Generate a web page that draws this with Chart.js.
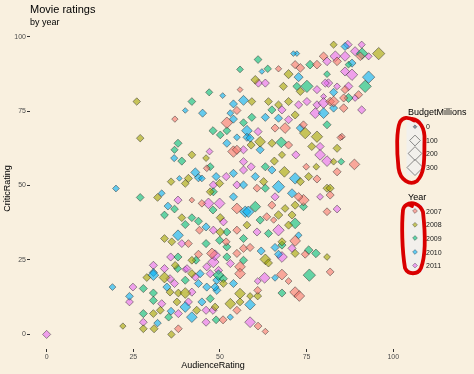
<!DOCTYPE html>
<html lang="en">

<head>
    <meta charset="utf-8">
    <title>Movie ratings</title>
    <script src="https://cdn.jsdelivr.net/npm/chart.js@4.4.1/dist/chart.umd.min.js"></script>
    <style>
        html,
        body {
            margin: 0;
            padding: 0;
            background: #F9F0DF;
        }

        #wrap {
            width: 474px;
            height: 374px;
        }
    </style>
</head>

<body>
    <div id="wrap"><canvas id="ratingsChart" width="474" height="374"></canvas></div>

    <script>
        // each movie: [AudienceRating, CriticRating, BudgetMillions]
        const movies2007 = [
            [55.8, 82.2, 10], [37.0, 72.3, 15], [54.9, 75.2, 40], [52.0, 71.1, 120],
            [79.9, 93.4, 50], [90.5, 93.4, 50], [83.8, 91.7, 50], [71.7, 90.6, 40], [73.2, 89.5, 50],
            [78.0, 90.6, 50], [66.9, 89.2, 15], [86.1, 82.2, 40], [90.0, 80.5, 40], [81.8, 78.2, 50],
            [82.8, 78.2, 100], [85.7, 79.4, 40], [85.7, 76.0, 50], [65.9, 69.3, 40], [68.8, 69.3, 100],
            [74.1, 70.4, 35], [85.2, 66.4, 20],
            [53.9, 61.4, 120], [54.9, 62.0, 60], [46.2, 55.8, 20], [41.9, 45.1, 8], [44.8, 44.0, 30],
            [54.9, 42.3, 100], [44.1, 35.0, 35], [54.9, 35.0, 40], [40.9, 30.5, 35], [51.8, 31.1, 35],
            [69.8, 63.6, 40], [84.7, 66.1, 15], [88.8, 57.1, 100], [74.9, 56.3, 20], [83.8, 54.6, 40],
            [78.0, 52.2, 40], [81.8, 46.8, 40], [60.7, 49.1, 35], [74.1, 45.1, 120], [72.7, 46.2, 50],
            [65.0, 43.4, 40], [80.9, 41.2, 35], [63.5, 39.5, 40], [65.5, 38.4, 15], [71.7, 31.4, 100],
            [43.8, 26.9, 40], [47.7, 27.2, 100], [55.8, 22.7, 100], [54.9, 8.1, 40], [50.9, 4.9, 40],
            [38.0, 1.9, 35], [54.9, 27.2, 40], [56.8, 28.9, 40], [55.8, 20.4, 100],
            [58.7, 29.2, 40], [74.6, 26.9, 35], [67.9, 20.1, 100], [69.8, 17.9, 20], [81.8, 21.0, 35],
            [60.9, 14.8, 35], [71.7, 14.2, 100], [72.9, 12.9, 100], [61.0, 2.8, 35], [63.1, 1.0, 15]
        ];
        const movies2008 = [
            [26.0, 78.2, 30], [27.0, 65.9, 30],
            [82.8, 97.3, 25], [95.8, 94.3, 150], [69.8, 87.4, 60], [60.2, 85.5, 50], [73.2, 81.6, 40],
            [68.3, 83.3, 40], [59.2, 78.2, 35], [64.0, 78.2, 35], [66.9, 77.1, 35], [69.8, 78.2, 40],
            [71.7, 73.7, 40], [74.6, 67.6, 120], [78.0, 66.4, 120],
            [41.9, 60.3, 35], [46.0, 59.2, 20], [40.9, 52.4, 40], [40.0, 50.7, 35], [35.9, 51.3, 30],
            [49.9, 50.7, 40], [32.0, 46.0, 35], [47.2, 47.9, 35], [39.0, 39.2, 35], [50.1, 39.2, 40],
            [50.1, 34.4, 50], [57.8, 36.7, 35], [34.0, 32.2, 35], [36.1, 31.1, 35],
            [59.0, 63.6, 40], [61.6, 64.7, 100], [65.0, 64.2, 40], [76.5, 63.1, 40], [83.8, 62.5, 40],
            [82.8, 58.0, 20], [67.9, 60.3, 25], [65.7, 58.2, 40], [68.6, 54.6, 100], [62.6, 51.3, 40],
            [73.2, 51.3, 40], [75.6, 53.0, 40], [77.8, 56.3, 20], [80.9, 49.1, 40], [81.8, 49.1, 40],
            [71.7, 43.4, 40], [68.8, 42.3, 35], [66.9, 40.1, 50], [70.8, 40.1, 40], [69.8, 36.7, 40],
            [67.9, 31.1, 40], [41.9, 20.4, 40], [37.1, 23.2, 35],
            [41.9, 24.9, 35], [28.9, 19.1, 35], [34.0, 19.1, 100], [51.0, 17.1, 35], [55.8, 13.7, 100],
            [35.6, 14.2, 35], [38.0, 13.9, 35], [40.0, 13.9, 100], [37.6, 10.9, 35], [48.6, 9.2, 35],
            [53.0, 10.3, 100], [55.8, 10.9, 35], [30.8, 7.0, 35], [32.8, 8.1, 35], [43.3, 8.1, 40],
            [22.0, 2.8, 15], [27.9, 1.9, 35], [31.0, 1.9, 40], [36.0, 0.0, 30],
            [63.1, 25.2, 100], [64.0, 24.0, 40], [71.7, 27.2, 40], [80.9, 26.0, 20], [60.9, 12.9, 35],
            [58.7, 12.9, 20]
        ];
        const movies2009 = [
            [55.8, 89.0, 20], [46.9, 81.3, 25], [41.9, 78.2, 35], [56.8, 71.1, 35], [48.0, 68.4, 40],
            [50.1, 67.0, 35], [52.0, 68.4, 35],
            [91.0, 94.3, 120], [87.1, 90.6, 20], [76.0, 90.6, 50], [61.0, 92.3, 35], [63.8, 89.2, 30],
            [80.9, 87.4, 20], [75.1, 83.3, 150], [72.2, 83.3, 40], [91.9, 83.3, 150], [87.1, 79.4, 60],
            [65.0, 75.4, 40], [59.2, 72.9, 40], [80.9, 70.4, 40],
            [37.9, 64.2, 40], [36.9, 62.0, 25], [39.0, 58.2, 40], [47.2, 56.3, 35], [27.0, 46.0, 35],
            [36.9, 42.1, 35], [34.0, 40.1, 35], [48.0, 41.8, 40], [48.1, 47.9, 40], [40.0, 36.9, 40],
            [41.9, 39.2, 35], [43.8, 38.0, 40], [52.0, 34.4, 40], [46.0, 30.5, 40], [49.9, 31.6, 40],
            [56.8, 32.2, 40],
            [67.7, 64.5, 100], [85.0, 58.0, 20], [63.1, 56.3, 40], [63.1, 49.1, 40], [74.1, 42.9, 40],
            [60.2, 42.9, 100], [61.6, 38.4, 40], [71.7, 37.3, 100], [64.0, 33.9, 40],
            [37.9, 26.0, 40], [56.8, 24.9, 40], [40.0, 18.2, 40], [27.9, 15.4, 40], [30.8, 13.9, 40],
            [30.8, 11.4, 40], [47.2, 12.0, 40], [27.9, 7.0, 40], [35.2, 5.8, 35], [48.9, 4.9, 35],
            [52.0, 29.4, 40], [52.0, 26.0, 40], [43.1, 24.9, 35], [37.8, 22.1, 35], [49.6, 19.9, 100],
            [51.0, 18.7, 40],
            [67.9, 30.0, 40], [75.6, 28.3, 50], [77.7, 27.2, 50], [75.8, 19.9, 150], [67.9, 13.9, 40]
        ];
        const movies2010 = [
            [50.8, 80.2, 10], [45.0, 74.3, 40], [40.0, 75.2, 8], [53.9, 77.4, 40], [56.8, 78.6, 80],
            [53.0, 74.3, 20], [53.9, 72.3, 40], [57.8, 68.4, 100], [57.8, 66.2, 40], [54.9, 66.2, 20],
            [86.1, 96.7, 40], [72.2, 94.3, 8], [71.2, 94.3, 8], [88.1, 91.1, 40], [62.1, 88.3, 8],
            [92.9, 86.4, 150], [72.7, 86.4, 60], [82.8, 81.3, 40], [82.8, 76.0, 40], [79.9, 74.3, 100],
            [63.1, 72.9, 40], [66.9, 72.6, 40], [73.2, 69.3, 40],
            [36.8, 59.2, 25], [52.0, 64.2, 40], [42.9, 54.4, 60], [43.8, 52.6, 40], [44.8, 52.4, 20],
            [38.3, 52.4, 8], [48.9, 53.0, 40], [53.9, 54.1, 40], [56.8, 50.2, 40], [20.0, 49.0, 20],
            [33.2, 47.4, 20], [35.0, 43.1, 35], [53.9, 46.2, 40], [57.3, 41.2, 120], [46.0, 36.1, 40],
            [37.9, 33.3, 100], [58.7, 65.9, 40],
            [61.6, 62.0, 40], [65.0, 55.2, 40], [60.2, 53.0, 40], [71.7, 52.4, 120], [66.9, 49.6, 150],
            [70.8, 47.4, 60], [58.2, 41.2, 120], [72.7, 33.3, 20],
            [30.8, 20.8, 40], [43.8, 17.1, 40], [46.2, 15.9, 40], [49.1, 14.8, 40], [53.9, 17.1, 40],
            [19.0, 15.9, 20], [23.9, 12.8, 35], [44.8, 10.9, 40], [35.9, 7.8, 35], [40.0, 9.2, 100],
            [41.9, 5.8, 100], [53.0, 5.8, 15], [32.0, 3.8, 30], [30.8, 19.9, 100],
            [44.3, 20.4, 40], [49.1, 18.2, 40], [34.7, 15.9, 40], [48.6, 15.9, 40],
            [61.9, 28.0, 40], [65.9, 29.2, 40], [66.9, 26.9, 40], [65.9, 19.0, 20], [58.7, 10.0, 100]
        ];
        const movies2011 = [
            [86.9, 97.3, 50], [90.9, 97.3, 25], [83.3, 93.4, 100], [86.1, 93.4, 80], [89.0, 95.1, 60],
            [92.9, 93.4, 25], [80.9, 91.7, 50], [86.1, 88.3, 60], [88.1, 87.2, 120], [61.1, 84.4, 40],
            [63.1, 84.4, 40], [81.3, 84.4, 50], [80.4, 84.4, 40], [83.8, 83.3, 20], [78.0, 82.2, 40],
            [87.1, 83.3, 50], [79.9, 79.9, 10], [72.7, 77.1, 40], [75.1, 78.2, 40], [78.0, 77.1, 40],
            [79.9, 77.7, 100], [89.0, 79.4, 20], [77.5, 74.3, 100], [90.9, 75.4, 40], [67.9, 75.4, 40],
            [69.8, 72.1, 40], [61.0, 68.1, 40],
            [47.0, 61.4, 20], [56.8, 62.0, 40], [56.8, 58.0, 40], [51.8, 53.0, 40], [48.1, 50.2, 40],
            [56.8, 55.2, 40], [54.9, 50.2, 40], [37.9, 45.1, 40], [46.7, 44.0, 100], [49.9, 44.0, 100],
            [51.0, 37.8, 40], [48.1, 35.0, 40], [39.0, 30.5, 35],
            [78.9, 63.1, 40], [78.9, 60.3, 100], [80.9, 58.2, 100], [71.9, 60.3, 40], [59.0, 56.3, 40],
            [78.9, 46.2, 20], [65.9, 46.2, 40], [83.8, 42.1, 35], [66.9, 35.0, 120], [60.7, 34.4, 40],
            [35.8, 26.0, 40], [48.1, 24.3, 120], [53.0, 23.8, 40], [30.8, 23.2, 40], [34.0, 22.1, 40],
            [42.9, 19.3, 40], [36.9, 17.1, 40], [24.9, 15.9, 35], [41.9, 14.2, 40], [33.2, 10.3, 40],
            [40.9, 10.9, 40], [23.9, 10.9, 35], [38.0, 7.0, 40], [46.0, 8.1, 40], [48.0, 8.1, 40],
            [27.9, 4.1, 35], [46.0, 4.1, 40], [0.0, 0.0, 40],
            [48.6, 26.6, 100], [49.6, 21.5, 40], [40.0, 21.8, 15], [40.5, 22.1, 35], [46.2, 22.7, 40],
            [47.2, 20.4, 40], [35.6, 18.7, 40],
            [67.9, 26.0, 100], [70.8, 28.9, 40], [62.9, 19.0, 100], [60.9, 17.9, 20], [58.7, 4.1, 100]
        ];

        const years = ['2007', '2008', '2009', '2010', '2011'];
        const moviesByYear = [movies2007, movies2008, movies2009, movies2010, movies2011];
        const yearColors = ['#F8766D', '#A3A500', '#00BF7D', '#00B0F6', '#E76BF3'];
        const axisTicks = [0, 25, 50, 75, 100];
        const budgetBreaks = [0, 100, 200, 300];

        const FONT = '"Liberation Sans", Arial, sans-serif';
        const FILL_ALPHA = 0.6;
        const EDGE = 'rgba(30,30,30,0.5)';

        function hexToRgba(hex, a) {
            const n = parseInt(hex.slice(1), 16);
            return `rgba(${n >> 16}, ${(n >> 8) & 255}, ${n & 255}, ${a})`;
        }

        // ggplot-like size scale: area grows with budget
        function budgetRadius(b) {
            return 1.8 + 6.2 * Math.sqrt(b / 300);
        }

        function diamond(ctx, x, y, r) {
            ctx.beginPath();
            ctx.moveTo(x, y - r);
            ctx.lineTo(x + r, y);
            ctx.lineTo(x, y + r);
            ctx.lineTo(x - r, y);
            ctx.closePath();
        }

        // titles, legends and the red marker loops
        const decorPlugin = {
            id: 'decor',
            afterDraw(chart) {
                const ctx = chart.ctx;
                const area = chart.chartArea;
                ctx.save();
                ctx.fillStyle = '#000';
                ctx.textBaseline = 'alphabetic';
                ctx.font = '11px ' + FONT;
                ctx.fillText('Movie ratings', area.left, 12.5);
                ctx.font = '9px ' + FONT;
                ctx.fillText('by year', area.left, 25);

                const keyX = 415, labelX = 426;

                // BudgetMillions legend
                ctx.fillText('BudgetMillions', 408, 115);
                ctx.fillStyle = '#F2F0EC';
                ctx.fillRect(406.5, 119, 17.3, 56);
                const budgetY = [126.7, 140.5, 153.5, 167.5];
                budgetBreaks.forEach((b, i) => {
                    diamond(ctx, keyX, budgetY[i], budgetRadius(b));
                    ctx.fillStyle = b === 0 ? 'rgba(120,140,160,0.9)' : 'rgba(255,255,255,0)';
                    ctx.fill();
                    ctx.strokeStyle = '#6b6b6b';
                    ctx.lineWidth = 0.8;
                    ctx.stroke();
                    ctx.fillStyle = '#1a1a1a';
                    ctx.font = '7px ' + FONT;
                    ctx.fillText(String(b), labelX, budgetY[i] + 2.5);
                });

                // Year legend
                ctx.font = '9px ' + FONT;
                ctx.fillStyle = '#000';
                ctx.fillText('Year', 408, 200);
                ctx.fillStyle = '#F2F0EC';
                ctx.fillRect(406.5, 204, 17.3, 68);
                const yearY = [211, 224.8, 238, 252, 265.5];
                years.forEach((yr, i) => {
                    diamond(ctx, keyX, yearY[i], 2.4);
                    ctx.fillStyle = hexToRgba(yearColors[i], FILL_ALPHA);
                    ctx.fill();
                    ctx.strokeStyle = EDGE;
                    ctx.lineWidth = 0.7;
                    ctx.stroke();
                    ctx.fillStyle = '#1a1a1a';
                    ctx.font = '7px ' + FONT;
                    ctx.fillText(yr, labelX, yearY[i] + 2.5);
                });

                // hand-drawn red loops around the legend keys
                ctx.strokeStyle = '#D90000';
                ctx.lineWidth = 3.8;
                ctx.lineCap = 'round';
                ctx.lineJoin = 'round';
                ctx.beginPath();
                ctx.moveTo(412, 119);
                ctx.bezierCurveTo(420, 120, 425, 128, 424.5, 140);
                ctx.bezierCurveTo(424, 155, 426, 172, 417, 181);
                ctx.bezierCurveTo(410, 186, 400, 180, 398.5, 168);
                ctx.bezierCurveTo(396.5, 150, 396.5, 130, 400, 122);
                ctx.bezierCurveTo(403, 117, 408, 116.5, 414, 120.5);
                ctx.stroke();
                ctx.beginPath();
                ctx.moveTo(406, 205);
                ctx.bezierCurveTo(412, 201, 420, 204, 423, 212);
                ctx.bezierCurveTo(425, 230, 426, 255, 421, 268);
                ctx.bezierCurveTo(418, 275, 408, 275, 405, 268);
                ctx.bezierCurveTo(402, 250, 401.5, 225, 403, 210);
                ctx.bezierCurveTo(404, 205, 408, 203, 412, 206);
                ctx.stroke();
                ctx.restore();
            }
        };

        const datasets = years.map((yr, i) => ({
            label: yr,
            data: moviesByYear[i].map(m => ({ x: m[0], y: m[1], b: m[2] })),
            pointStyle: 'rectRot',
            pointRadius: c => budgetRadius(c.raw.b),
            pointHoverRadius: c => budgetRadius(c.raw.b),
            backgroundColor: hexToRgba(yearColors[i], FILL_ALPHA),
            borderColor: EDGE,
            borderWidth: 0.9
        }));

        const tickFont = { size: 7, family: FONT };

        new Chart(document.getElementById('ratingsChart'), {
            type: 'scatter',
            data: { datasets },
            options: {
                responsive: false,
                animation: false,
                events: [],
                layout: { padding: { top: 28, right: 78, left: 0, bottom: 0 } },
                plugins: {
                    legend: { display: false },
                    tooltip: { enabled: false }
                },
                scales: {
                    x: {
                        type: 'linear',
                        min: -4.8,
                        max: 100.8,
                        afterBuildTicks: s => { s.ticks = axisTicks.map(v => ({ value: v })); },
                        afterFit: s => { s.height = 25; },
                        grid: { drawOnChartArea: false, drawTicks: true, tickLength: 3, color: '#333' },
                        border: { display: false },
                        ticks: { font: tickFont, color: '#4D4D4D', padding: 1, maxRotation: 0, autoSkip: false },
                        title: {
                            display: true, text: 'AudienceRating', color: '#000',
                            font: { size: 9, family: FONT }, padding: { top: 0, bottom: 3.5 }
                        }
                    },
                    y: {
                        type: 'linear',
                        min: -4.9,
                        max: 102.9,
                        afterBuildTicks: s => { s.ticks = axisTicks.map(v => ({ value: v })); },
                        afterFit: s => { s.width = 30; },
                        grid: { drawOnChartArea: false, drawTicks: true, tickLength: 3, color: '#333' },
                        border: { display: false },
                        ticks: { font: tickFont, color: '#4D4D4D', padding: 1, autoSkip: false },
                        title: {
                            display: true, text: 'CriticRating', color: '#000',
                            font: { size: 9, family: FONT }, padding: { top: 2.5, bottom: 0 }
                        }
                    }
                }
            },
            plugins: [decorPlugin]
        });
    </script>
</body>

</html>
